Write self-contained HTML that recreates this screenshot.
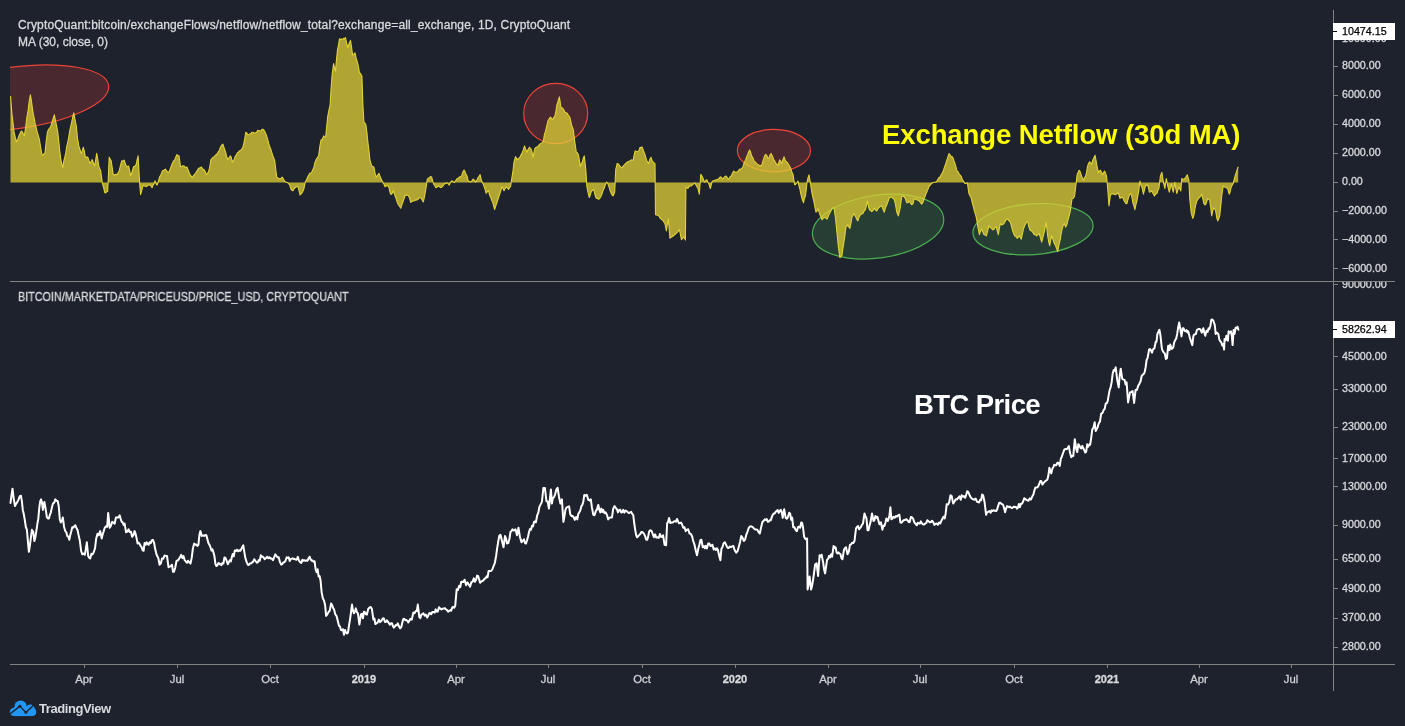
<!DOCTYPE html>
<html><head><meta charset="utf-8"><title>chart</title>
<style>
html,body{margin:0;padding:0;}
body{width:1405px;height:726px;background:#1e222d;overflow:hidden;position:relative;font-family:"Liberation Sans",sans-serif;color:#d9dadd;}
svg{position:absolute;left:0;top:0;}
.hl{position:absolute;background:#828282;height:1px;}
.vl{position:absolute;background:#828282;width:1px;}
.tk{position:absolute;left:1334px;width:4px;height:1px;background:#828282;}
.yl{position:absolute;left:1342px;font-size:10.7px;line-height:14px;height:14px;white-space:nowrap;color:#d9dadd;}
.xl{position:absolute;top:672px;width:60px;margin-left:-30px;text-align:center;font-size:11.3px;line-height:14px;color:#cfd0d4;}
.yr{font-weight:bold;font-size:11px;color:#d9dadd;}
.xt{position:absolute;top:665px;width:1px;height:3px;background:#828282;}
.lg,.yl,.xl,.big,.box{will-change:transform;}
.lg,.yl,.xl{-webkit-text-stroke:0.3px currentColor;}
.box{-webkit-text-stroke:0.25px #000;}
.lg{position:absolute;left:18px;font-size:12px;line-height:14px;white-space:nowrap;color:#d9dadd;transform-origin:0 50%;}
.box{position:absolute;left:1333px;width:62px;height:17px;background:#fff;color:#000;font-size:10.7px;line-height:17px;}
.box span{position:absolute;left:9px;top:0;}
.box i{position:absolute;left:0;top:8px;width:4px;height:1px;background:#000;}
.clip{position:absolute;left:1334px;top:282px;width:71px;height:12px;overflow:hidden;}
.big{position:absolute;font-weight:bold;white-space:nowrap;transform-origin:0 50%;}
</style></head><body>
<svg width="1405" height="726" viewBox="0 0 1405 726">
 <defs><clipPath id="cp"><rect x="10" y="10" width="1323" height="271"/></clipPath></defs>
 <g clip-path="url(#cp)">
  <ellipse cx="14.3" cy="98" rx="95.1" ry="30.9" transform="rotate(-7.56 14.3 98)" fill="rgba(244,67,54,0.2)" stroke="#ee4438" stroke-width="1.2"/>
  <ellipse cx="555.7" cy="113.5" rx="32" ry="30.2" fill="rgba(244,67,54,0.2)" stroke="#ee4438" stroke-width="1.2"/>
  <ellipse cx="773.9" cy="150.6" rx="36.6" ry="21.2" fill="rgba(244,67,54,0.2)" stroke="#ee4438" stroke-width="1.2"/>
  <ellipse cx="878.1" cy="226.6" rx="66.1" ry="31.4" transform="rotate(-8 878.1 226.6)" fill="rgba(76,175,80,0.2)" stroke="#4caf50" stroke-width="1.2"/>
  <ellipse cx="1033" cy="229.2" rx="60.2" ry="25.4" transform="rotate(-4 1033 229.2)" fill="rgba(76,175,80,0.2)" stroke="#4caf50" stroke-width="1.2"/>
  <path d="M10.5,182.5 L10.5,96.1 L12.0,114.8 L13.0,122.6 L14.0,132.2 L15.2,137.2 L16.4,141.7 L17.7,139.4 L18.9,135.9 L20.2,133.1 L21.4,131.0 L22.4,131.9 L23.4,134.3 L24.4,135.9 L25.7,126.9 L26.9,117.2 L28.1,110.6 L29.2,101.4 L30.4,94.8 L31.4,100.5 L32.4,108.6 L33.4,114.8 L34.4,119.7 L35.4,125.0 L36.4,128.5 L37.4,132.9 L38.4,135.9 L39.4,139.7 L40.6,147.0 L41.9,154.6 L42.9,155.3 L43.9,153.7 L44.9,153.4 L46.1,142.2 L47.4,132.2 L48.5,129.5 L49.7,128.1 L50.9,126.0 L52.0,122.3 L53.2,118.3 L54.3,114.8 L55.5,120.5 L56.7,126.6 L57.8,132.2 L58.8,141.8 L59.8,151.3 L60.8,159.6 L61.8,163.8 L62.8,167.6 L63.8,161.1 L64.8,157.1 L65.8,152.7 L66.8,146.1 L67.8,142.2 L68.8,136.7 L69.8,130.3 L70.8,126.0 L71.8,121.6 L72.8,116.6 L73.8,112.8 L75.0,119.5 L76.3,126.0 L77.5,138.3 L78.8,145.9 L80.0,149.6 L81.3,153.4 L82.3,150.9 L83.3,147.2 L84.3,151.2 L85.3,157.1 L86.5,157.0 L87.8,157.1 L89.0,160.7 L90.2,163.4 L91.2,161.4 L92.2,159.6 L93.5,163.0 L94.7,165.9 L95.7,159.7 L96.7,153.4 L97.7,158.9 L98.7,165.9 L99.7,168.7 L100.7,170.8 L102.2,182.6 L103.5,187.0 L104.7,192.5 L105.7,192.9 L106.7,191.7 L107.7,191.5 L109.2,157.1 L110.2,159.4 L111.2,160.9 L112.2,167.7 L113.2,174.6 L114.3,174.9 L115.5,174.4 L116.7,174.6 L117.9,173.3 L119.2,170.8 L120.4,165.8 L121.7,160.9 L122.9,161.0 L124.2,160.1 L125.4,163.8 L126.6,166.6 L127.6,166.3 L128.6,165.9 L129.6,170.3 L130.6,175.8 L131.6,173.3 L132.6,170.0 L133.6,166.6 L134.9,166.4 L136.1,164.6 L137.1,160.0 L138.1,155.9 L139.6,182.6 L140.6,194.5 L141.8,190.2 L143.1,185.1 L144.1,185.8 L145.1,186.2 L146.1,186.6 L147.1,186.0 L148.1,185.3 L149.1,184.6 L150.1,185.3 L151.1,186.1 L152.1,187.6 L153.1,185.1 L154.1,183.4 L155.1,180.8 L156.1,183.9 L157.1,185.1 L158.3,181.8 L159.5,177.1 L160.5,175.6 L161.5,173.4 L162.5,170.8 L163.5,170.6 L164.5,169.8 L165.5,169.1 L166.8,171.2 L168.0,172.6 L169.3,171.5 L170.5,168.3 L171.5,165.6 L172.5,162.9 L173.5,160.9 L174.7,159.9 L175.8,156.9 L177.0,154.6 L178.0,155.7 L179.0,155.9 L180.5,166.6 L181.6,166.7 L182.8,165.7 L184.0,165.9 L185.0,167.3 L186.0,167.4 L187.0,167.1 L188.0,169.7 L189.0,172.6 L190.0,174.6 L191.2,176.1 L192.4,177.6 L193.4,175.7 L194.4,174.7 L195.4,173.3 L196.4,171.9 L197.4,170.6 L198.4,168.3 L199.4,168.2 L200.4,167.5 L201.4,167.1 L202.7,169.0 L203.9,169.6 L205.2,171.6 L206.4,174.6 L207.7,173.1 L208.9,170.8 L209.9,166.0 L210.9,159.6 L211.9,158.7 L212.9,157.2 L213.9,157.1 L215.1,155.5 L216.2,154.8 L217.4,153.4 L218.4,151.6 L219.4,150.2 L220.4,147.2 L221.6,145.2 L222.9,144.2 L224.1,147.9 L225.4,151.7 L226.6,156.1 L227.8,159.6 L229.1,157.7 L230.3,155.9 L231.3,157.3 L232.3,162.1 L233.3,160.5 L234.3,159.4 L235.3,155.9 L236.3,155.1 L237.3,152.9 L238.3,152.2 L239.3,151.1 L240.3,150.6 L241.3,149.7 L242.6,148.2 L243.8,143.4 L244.8,138.3 L245.8,132.2 L246.8,133.1 L247.8,134.6 L248.8,134.7 L249.8,133.8 L250.8,133.9 L251.8,132.2 L252.8,132.3 L253.8,132.8 L254.8,133.4 L255.8,132.7 L256.8,132.0 L257.8,130.2 L258.8,130.7 L259.8,130.8 L260.8,131.0 L262.0,129.3 L263.2,129.2 L264.2,130.6 L265.2,132.5 L266.2,134.7 L267.5,138.7 L268.7,143.4 L269.7,146.8 L270.7,149.0 L271.7,152.2 L272.7,155.6 L273.7,158.0 L274.7,160.9 L275.7,168.7 L276.7,177.1 L277.7,177.8 L278.7,178.6 L279.7,179.1 L280.9,178.5 L282.2,177.1 L283.4,179.1 L284.7,181.6 L285.9,182.0 L287.2,182.6 L288.4,183.2 L289.7,185.1 L290.9,188.9 L292.2,190.8 L293.2,190.4 L294.2,188.5 L295.2,187.6 L296.2,187.0 L297.2,186.4 L298.1,186.6 L299.1,190.9 L300.1,195.0 L301.4,193.6 L302.6,192.0 L303.9,188.9 L305.1,182.6 L306.4,180.0 L307.6,177.1 L308.6,175.4 L309.6,173.4 L310.6,173.3 L311.6,172.5 L312.6,170.1 L313.6,168.3 L314.9,162.8 L316.1,159.6 L317.3,157.9 L318.6,155.9 L319.8,146.6 L321.1,139.7 L322.3,139.7 L323.6,135.9 L324.6,137.0 L325.6,137.2 L326.6,127.6 L327.6,117.2 L328.8,110.9 L330.1,104.8 L331.1,88.3 L332.1,74.9 L333.6,63.6 L334.5,67.3 L335.5,71.1 L336.5,59.4 L337.5,49.9 L338.5,44.8 L339.5,38.7 L340.0,40.0 L341.2,38.9 L342.5,39.5 L343.5,38.4 L344.5,38.7 L345.5,37.5 L346.7,43.6 L348.0,47.5 L349.2,43.1 L350.5,40.5 L351.5,46.6 L352.5,54.9 L353.7,54.3 L355.0,52.9 L356.2,58.3 L357.4,62.4 L358.4,66.7 L359.4,72.4 L360.7,73.9 L361.9,76.1 L362.9,104.8 L363.9,122.2 L364.9,123.1 L365.9,124.7 L366.9,132.6 L367.9,142.2 L368.9,150.4 L369.9,159.6 L370.9,163.6 L371.9,165.9 L372.9,166.8 L373.9,167.1 L375.1,173.6 L376.4,177.1 L377.6,175.2 L378.9,173.3 L380.1,176.4 L381.4,179.6 L382.9,182.6 L383.9,184.0 L384.9,186.6 L385.9,186.3 L386.9,185.6 L387.9,185.8 L388.9,187.5 L389.9,192.1 L390.9,194.5 L392.1,193.4 L393.4,190.8 L394.6,194.7 L395.8,197.5 L397.1,201.9 L398.3,204.5 L399.6,206.5 L400.8,208.2 L402.1,204.0 L403.3,200.8 L404.3,198.0 L405.3,195.0 L406.3,195.1 L407.3,195.1 L408.3,195.8 L409.6,198.0 L410.8,202.5 L411.8,201.3 L412.8,201.3 L413.8,200.8 L414.8,200.6 L415.8,200.1 L416.8,200.0 L418.0,199.4 L419.3,197.5 L420.3,198.0 L421.3,198.3 L422.3,200.5 L423.3,202.0 L424.5,196.6 L425.8,189.5 L427.2,179.6 L428.2,178.2 L429.2,177.6 L430.5,176.6 L431.7,177.1 L432.7,181.1 L433.7,184.1 L434.7,185.4 L435.7,187.6 L437.0,187.2 L438.2,185.8 L439.5,186.8 L440.7,187.6 L441.7,187.2 L442.7,186.2 L443.7,185.1 L444.7,183.3 L445.7,183.7 L446.7,182.6 L447.9,183.5 L449.2,185.1 L450.4,182.5 L451.7,180.8 L452.9,181.5 L454.2,182.6 L455.4,181.2 L456.7,179.1 L457.9,178.5 L459.2,177.1 L460.4,176.9 L461.6,175.8 L462.9,171.9 L464.1,170.1 L465.1,172.0 L466.1,174.6 L467.1,176.0 L468.1,180.8 L469.4,181.4 L470.6,182.1 L471.9,180.9 L473.1,179.1 L474.4,180.2 L475.6,182.1 L476.9,180.0 L478.1,177.6 L479.1,176.2 L480.1,174.6 L481.1,179.1 L482.1,182.1 L483.1,183.8 L484.1,186.6 L485.1,189.3 L486.1,193.3 L487.3,191.7 L488.6,190.8 L489.6,195.2 L490.6,197.0 L491.6,200.2 L492.6,202.0 L493.6,205.7 L494.6,209.5 L495.8,205.9 L497.1,202.0 L498.3,198.4 L499.5,194.5 L500.8,190.7 L502.0,186.6 L503.0,188.5 L504.0,190.8 L505.0,188.7 L506.0,187.1 L507.3,187.7 L508.5,189.5 L509.5,187.7 L510.5,186.6 L512.0,177.1 L513.0,170.8 L514.0,162.1 L515.5,156.6 L516.5,158.4 L517.5,159.6 L518.7,158.4 L520.0,157.1 L521.2,154.5 L522.5,152.2 L523.5,149.1 L524.5,145.9 L525.7,149.3 L527.0,152.2 L528.2,149.3 L529.5,147.2 L530.5,148.5 L531.5,149.7 L533.0,157.1 L533.9,152.9 L534.9,148.4 L535.9,147.5 L536.9,146.9 L537.9,146.7 L538.9,145.1 L539.9,144.0 L540.9,143.4 L542.2,142.6 L543.4,140.9 L544.4,134.6 L545.4,131.7 L546.7,126.2 L547.9,121.0 L549.2,118.8 L550.4,117.2 L551.4,118.2 L552.4,119.7 L553.6,117.9 L554.9,116.0 L555.9,111.2 L556.9,104.8 L558.1,100.9 L559.4,96.8 L560.9,107.3 L561.9,107.8 L562.9,108.5 L563.9,110.0 L564.9,112.3 L566.1,112.8 L567.4,113.5 L568.6,115.9 L569.8,117.2 L570.8,121.3 L571.8,126.0 L573.3,129.7 L574.8,142.2 L576.3,152.2 L577.3,152.8 L578.3,154.6 L579.3,159.7 L580.3,166.6 L581.3,163.7 L582.3,162.1 L583.3,158.0 L584.3,155.9 L585.8,169.6 L586.8,185.8 L588.0,192.4 L589.3,197.5 L590.3,194.8 L591.3,191.5 L592.5,190.4 L593.8,189.5 L595.0,195.0 L596.3,198.3 L597.3,198.3 L598.3,199.1 L599.3,199.0 L600.5,197.2 L601.8,194.5 L603.0,190.4 L604.2,188.3 L605.5,184.2 L606.7,182.1 L607.7,183.4 L608.7,185.8 L610.0,190.2 L611.2,193.3 L612.2,195.2 L613.2,195.8 L614.7,192.0 L615.7,169.6 L617.2,163.4 L618.5,164.0 L619.7,165.9 L620.9,167.2 L622.2,167.6 L623.4,165.9 L624.7,164.6 L625.9,163.2 L627.2,162.1 L628.2,161.5 L629.2,161.2 L630.2,160.9 L631.2,159.9 L632.2,160.0 L633.2,160.1 L634.2,154.6 L635.2,150.9 L636.4,151.5 L637.6,151.7 L638.9,150.6 L640.1,147.2 L641.1,148.0 L642.0,146.9 L643.0,149.4 L644.0,152.3 L645.2,155.1 L646.5,160.3 L647.5,161.7 L648.5,163.6 L649.7,159.8 L651.0,157.3 L652.2,161.0 L653.5,162.3 L655.0,163.6 L655.5,214.7 L656.7,215.1 L658.0,215.2 L659.2,216.4 L660.4,218.4 L661.7,219.7 L662.9,220.2 L663.9,222.1 L664.9,223.4 L666.4,230.9 L667.4,223.9 L668.4,219.2 L669.9,238.3 L671.2,237.2 L672.4,236.6 L673.7,235.5 L674.9,234.6 L676.1,233.4 L677.4,232.1 L678.4,230.9 L679.4,229.6 L680.4,234.4 L681.4,239.6 L682.6,238.4 L683.9,237.1 L685.4,240.1 L685.9,187.2 L686.9,187.6 L687.9,188.5 L688.9,186.8 L689.9,186.0 L691.1,186.0 L692.4,184.8 L693.6,183.9 L694.8,182.8 L696.1,185.3 L697.3,187.2 L698.3,189.6 L699.3,194.2 L700.8,174.3 L701.8,175.9 L702.8,177.8 L703.8,180.5 L704.8,182.3 L705.8,180.4 L706.8,179.8 L707.8,182.3 L708.8,183.5 L710.3,188.5 L711.3,184.5 L712.3,181.0 L713.5,180.8 L714.8,180.3 L715.8,179.9 L716.8,179.7 L717.8,179.3 L719.0,178.6 L720.3,176.8 L721.3,177.2 L722.3,178.6 L723.3,178.5 L724.5,176.9 L725.8,176.0 L727.0,177.2 L728.2,179.3 L729.2,178.5 L730.2,176.6 L731.2,176.0 L732.5,173.3 L733.7,171.1 L735.0,172.0 L736.2,172.3 L737.5,171.8 L738.7,170.3 L739.7,169.0 L740.7,169.3 L741.7,168.6 L743.0,166.7 L744.2,162.3 L745.5,160.3 L746.7,156.8 L747.7,154.4 L748.7,151.8 L749.7,149.9 L750.7,152.8 L751.7,156.1 L752.9,157.9 L754.2,161.1 L755.4,162.2 L756.7,163.6 L757.9,164.4 L759.2,165.3 L760.2,165.6 L761.1,166.1 L762.4,163.2 L763.6,158.6 L764.6,156.3 L765.6,154.3 L766.9,155.6 L768.1,158.6 L769.1,157.5 L770.1,154.7 L771.1,153.6 L772.4,156.2 L773.6,159.3 L774.9,161.4 L776.1,163.6 L777.1,164.3 L778.1,165.3 L779.6,159.8 L780.6,161.1 L781.6,163.6 L782.8,160.0 L784.1,156.8 L785.3,160.6 L786.6,161.8 L787.8,163.2 L789.1,165.3 L790.1,167.2 L791.1,169.3 L792.1,172.8 L793.1,174.8 L794.6,184.8 L795.6,184.5 L796.5,183.5 L798.0,181.0 L799.0,185.9 L800.0,189.7 L801.0,194.7 L802.0,198.5 L803.5,202.7 L804.5,197.9 L805.5,196.0 L807.0,182.3 L808.0,177.9 L809.0,174.8 L810.5,183.5 L812.0,193.5 L813.0,197.9 L814.0,202.2 L815.0,207.6 L816.0,212.2 L817.0,211.1 L818.0,208.4 L819.0,211.9 L820.0,214.7 L821.0,217.0 L822.0,219.7 L823.2,218.4 L824.5,217.2 L825.7,218.1 L827.0,219.2 L828.2,216.5 L829.5,213.4 L830.7,211.3 L832.0,208.4 L833.0,207.9 L834.0,207.7 L835.4,217.2 L836.9,232.1 L838.4,247.1 L839.9,257.6 L840.9,256.3 L841.9,255.8 L842.9,248.3 L843.9,242.1 L844.9,235.4 L845.9,227.1 L846.9,226.5 L847.9,224.6 L848.9,227.1 L849.9,228.4 L850.9,223.4 L851.9,217.2 L852.9,215.8 L853.9,213.4 L854.9,215.3 L855.9,217.2 L856.9,219.4 L857.9,220.9 L859.1,217.1 L860.4,214.7 L861.6,214.0 L862.9,213.4 L864.1,211.2 L865.4,209.7 L866.4,205.8 L867.4,201.0 L868.3,204.9 L869.3,209.7 L870.6,210.6 L871.8,211.7 L873.1,210.3 L874.3,208.4 L875.6,210.3 L876.8,210.9 L878.1,208.6 L879.3,207.2 L880.6,206.2 L881.8,205.9 L883.1,209.6 L884.3,212.2 L885.5,207.6 L886.8,204.7 L888.0,201.5 L889.3,197.7 L890.5,197.3 L891.8,197.2 L893.0,198.4 L894.3,199.7 L895.5,204.6 L896.8,212.2 L898.3,215.9 L899.3,212.1 L900.3,207.2 L901.8,196.0 L903.0,196.2 L904.2,196.7 L905.5,199.1 L906.7,202.7 L908.0,202.7 L909.2,201.0 L910.5,203.2 L911.7,204.7 L913.0,203.9 L914.2,198.5 L915.5,199.3 L916.7,199.7 L918.0,200.2 L919.2,201.0 L920.5,202.6 L921.7,204.2 L922.9,202.4 L924.2,198.5 L925.4,195.3 L926.7,192.2 L927.9,189.4 L929.2,186.0 L930.4,185.0 L931.7,183.5 L932.9,182.5 L934.2,182.3 L935.4,182.1 L936.6,181.8 L937.9,179.2 L939.1,177.3 L940.0,177.8 L941.0,174.9 L942.0,173.5 L943.0,171.6 L944.0,168.6 L945.2,165.3 L946.5,161.1 L947.7,157.4 L949.0,153.6 L950.0,154.7 L951.0,156.8 L952.0,156.5 L953.0,157.8 L954.0,161.0 L955.0,163.6 L956.0,167.2 L957.0,171.1 L957.9,171.4 L958.9,173.5 L959.9,174.8 L961.2,176.4 L962.4,179.8 L963.7,181.6 L964.9,183.5 L966.2,183.2 L967.4,182.8 L968.9,193.5 L969.9,195.6 L970.9,197.2 L972.2,202.4 L973.4,207.2 L974.6,211.7 L975.9,215.9 L976.9,220.7 L977.9,227.1 L979.4,234.6 L980.4,231.6 L981.4,229.1 L982.6,231.6 L983.9,234.6 L985.1,235.1 L986.4,235.9 L987.6,231.1 L988.9,225.9 L990.1,227.4 L991.4,228.4 L992.6,229.7 L993.9,229.6 L995.1,227.2 L996.3,227.1 L997.3,231.2 L998.3,234.6 L999.3,228.9 L1000.3,223.4 L1001.6,225.0 L1002.8,224.6 L1004.1,223.3 L1005.3,220.9 L1006.6,219.3 L1007.8,219.2 L1009.1,220.9 L1010.3,222.2 L1011.3,225.5 L1012.3,229.6 L1013.5,233.4 L1014.8,235.9 L1016.0,236.6 L1017.3,238.3 L1018.3,237.1 L1019.3,235.9 L1020.3,237.4 L1021.3,239.1 L1022.3,234.3 L1023.3,229.6 L1024.5,226.1 L1025.8,223.4 L1026.8,221.7 L1027.8,221.7 L1028.7,226.0 L1029.7,229.6 L1030.7,230.7 L1031.7,230.9 L1033.0,232.7 L1034.2,234.6 L1035.5,234.8 L1036.7,235.9 L1038.0,234.7 L1039.2,233.4 L1040.5,238.1 L1041.7,242.1 L1043.0,237.0 L1044.2,232.1 L1045.2,227.1 L1046.2,222.2 L1047.7,235.9 L1048.7,241.9 L1049.7,245.8 L1050.7,240.0 L1051.7,235.9 L1052.9,239.2 L1054.2,243.3 L1055.3,244.9 L1056.5,248.4 L1057.7,251.6 L1058.9,245.1 L1060.2,239.6 L1061.2,233.3 L1062.2,228.4 L1063.2,225.4 L1064.2,223.4 L1065.6,227.1 L1066.9,224.7 L1068.1,219.7 L1069.1,215.8 L1070.1,212.2 L1071.1,205.2 L1072.1,198.5 L1073.4,198.3 L1074.6,196.0 L1076.1,183.5 L1077.1,174.8 L1078.1,172.5 L1079.1,170.3 L1080.1,171.5 L1081.1,174.8 L1082.3,177.8 L1083.6,180.3 L1084.6,177.6 L1085.6,176.0 L1086.6,172.2 L1087.6,166.1 L1088.6,163.2 L1089.6,161.8 L1090.6,162.8 L1091.6,164.3 L1092.6,160.3 L1093.6,158.6 L1095.1,155.3 L1096.1,160.8 L1097.0,166.1 L1098.5,172.8 L1099.5,171.0 L1100.5,170.3 L1101.5,172.5 L1102.5,174.8 L1103.5,172.7 L1104.5,171.1 L1105.5,173.1 L1106.5,176.0 L1107.5,186.0 L1109.0,205.9 L1110.5,194.2 L1111.8,194.2 L1113.0,193.5 L1114.3,194.5 L1115.5,194.7 L1116.7,193.8 L1118.0,192.7 L1119.0,195.0 L1120.0,198.5 L1121.2,197.4 L1122.5,197.2 L1123.7,199.9 L1125.0,202.2 L1126.0,203.8 L1127.0,203.4 L1128.0,199.4 L1129.0,196.0 L1130.0,194.3 L1131.0,193.5 L1132.0,198.0 L1133.0,203.4 L1133.9,205.8 L1134.9,209.7 L1135.9,204.6 L1136.9,201.0 L1137.9,195.2 L1138.9,189.7 L1139.9,181.0 L1140.9,185.2 L1141.9,187.2 L1143.4,194.2 L1144.4,190.1 L1145.4,186.0 L1146.4,185.2 L1147.4,184.8 L1148.4,187.3 L1149.4,192.2 L1150.6,191.7 L1151.9,191.0 L1153.1,193.5 L1154.4,196.0 L1155.6,194.1 L1156.9,193.5 L1157.9,190.3 L1158.9,188.5 L1160.4,176.0 L1161.9,172.3 L1163.4,182.3 L1164.9,188.5 L1166.3,178.5 L1167.8,186.0 L1169.3,192.2 L1170.3,187.8 L1171.3,183.5 L1172.3,188.6 L1173.3,192.2 L1174.8,182.3 L1175.8,188.3 L1176.8,193.5 L1177.8,190.3 L1178.8,186.8 L1179.8,188.7 L1180.8,191.0 L1181.8,178.5 L1182.8,179.0 L1183.8,179.3 L1184.8,178.3 L1185.8,177.3 L1187.3,174.8 L1188.8,179.8 L1189.8,199.7 L1191.3,213.4 L1192.8,218.4 L1193.8,215.6 L1194.8,209.7 L1195.8,204.5 L1196.8,201.0 L1198.0,199.2 L1199.3,197.7 L1200.5,196.6 L1201.8,194.2 L1202.8,198.6 L1203.8,203.4 L1204.7,204.7 L1205.7,204.7 L1206.7,201.6 L1207.7,198.5 L1208.7,199.2 L1209.7,199.7 L1210.7,207.6 L1211.7,215.9 L1212.7,210.8 L1213.7,207.7 L1214.7,208.8 L1215.7,210.9 L1216.7,217.5 L1217.7,220.9 L1218.7,218.8 L1219.7,215.9 L1220.7,206.4 L1221.7,196.0 L1223.2,186.0 L1224.4,187.0 L1225.7,187.2 L1226.7,188.1 L1227.7,188.5 L1229.2,194.2 L1230.2,191.5 L1231.2,187.2 L1232.2,185.2 L1233.2,183.5 L1234.7,177.3 L1235.7,174.0 L1236.7,171.1 L1238.2,166.8 L1238.2,182.5 Z" fill="rgba(225,209,54,0.75)" stroke="none"/>
  <path d="M10.5,96.1 L12.0,114.8 L13.0,122.6 L14.0,132.2 L15.2,137.2 L16.4,141.7 L17.7,139.4 L18.9,135.9 L20.2,133.1 L21.4,131.0 L22.4,131.9 L23.4,134.3 L24.4,135.9 L25.7,126.9 L26.9,117.2 L28.1,110.6 L29.2,101.4 L30.4,94.8 L31.4,100.5 L32.4,108.6 L33.4,114.8 L34.4,119.7 L35.4,125.0 L36.4,128.5 L37.4,132.9 L38.4,135.9 L39.4,139.7 L40.6,147.0 L41.9,154.6 L42.9,155.3 L43.9,153.7 L44.9,153.4 L46.1,142.2 L47.4,132.2 L48.5,129.5 L49.7,128.1 L50.9,126.0 L52.0,122.3 L53.2,118.3 L54.3,114.8 L55.5,120.5 L56.7,126.6 L57.8,132.2 L58.8,141.8 L59.8,151.3 L60.8,159.6 L61.8,163.8 L62.8,167.6 L63.8,161.1 L64.8,157.1 L65.8,152.7 L66.8,146.1 L67.8,142.2 L68.8,136.7 L69.8,130.3 L70.8,126.0 L71.8,121.6 L72.8,116.6 L73.8,112.8 L75.0,119.5 L76.3,126.0 L77.5,138.3 L78.8,145.9 L80.0,149.6 L81.3,153.4 L82.3,150.9 L83.3,147.2 L84.3,151.2 L85.3,157.1 L86.5,157.0 L87.8,157.1 L89.0,160.7 L90.2,163.4 L91.2,161.4 L92.2,159.6 L93.5,163.0 L94.7,165.9 L95.7,159.7 L96.7,153.4 L97.7,158.9 L98.7,165.9 L99.7,168.7 L100.7,170.8 L102.2,182.6 L103.5,187.0 L104.7,192.5 L105.7,192.9 L106.7,191.7 L107.7,191.5 L109.2,157.1 L110.2,159.4 L111.2,160.9 L112.2,167.7 L113.2,174.6 L114.3,174.9 L115.5,174.4 L116.7,174.6 L117.9,173.3 L119.2,170.8 L120.4,165.8 L121.7,160.9 L122.9,161.0 L124.2,160.1 L125.4,163.8 L126.6,166.6 L127.6,166.3 L128.6,165.9 L129.6,170.3 L130.6,175.8 L131.6,173.3 L132.6,170.0 L133.6,166.6 L134.9,166.4 L136.1,164.6 L137.1,160.0 L138.1,155.9 L139.6,182.6 L140.6,194.5 L141.8,190.2 L143.1,185.1 L144.1,185.8 L145.1,186.2 L146.1,186.6 L147.1,186.0 L148.1,185.3 L149.1,184.6 L150.1,185.3 L151.1,186.1 L152.1,187.6 L153.1,185.1 L154.1,183.4 L155.1,180.8 L156.1,183.9 L157.1,185.1 L158.3,181.8 L159.5,177.1 L160.5,175.6 L161.5,173.4 L162.5,170.8 L163.5,170.6 L164.5,169.8 L165.5,169.1 L166.8,171.2 L168.0,172.6 L169.3,171.5 L170.5,168.3 L171.5,165.6 L172.5,162.9 L173.5,160.9 L174.7,159.9 L175.8,156.9 L177.0,154.6 L178.0,155.7 L179.0,155.9 L180.5,166.6 L181.6,166.7 L182.8,165.7 L184.0,165.9 L185.0,167.3 L186.0,167.4 L187.0,167.1 L188.0,169.7 L189.0,172.6 L190.0,174.6 L191.2,176.1 L192.4,177.6 L193.4,175.7 L194.4,174.7 L195.4,173.3 L196.4,171.9 L197.4,170.6 L198.4,168.3 L199.4,168.2 L200.4,167.5 L201.4,167.1 L202.7,169.0 L203.9,169.6 L205.2,171.6 L206.4,174.6 L207.7,173.1 L208.9,170.8 L209.9,166.0 L210.9,159.6 L211.9,158.7 L212.9,157.2 L213.9,157.1 L215.1,155.5 L216.2,154.8 L217.4,153.4 L218.4,151.6 L219.4,150.2 L220.4,147.2 L221.6,145.2 L222.9,144.2 L224.1,147.9 L225.4,151.7 L226.6,156.1 L227.8,159.6 L229.1,157.7 L230.3,155.9 L231.3,157.3 L232.3,162.1 L233.3,160.5 L234.3,159.4 L235.3,155.9 L236.3,155.1 L237.3,152.9 L238.3,152.2 L239.3,151.1 L240.3,150.6 L241.3,149.7 L242.6,148.2 L243.8,143.4 L244.8,138.3 L245.8,132.2 L246.8,133.1 L247.8,134.6 L248.8,134.7 L249.8,133.8 L250.8,133.9 L251.8,132.2 L252.8,132.3 L253.8,132.8 L254.8,133.4 L255.8,132.7 L256.8,132.0 L257.8,130.2 L258.8,130.7 L259.8,130.8 L260.8,131.0 L262.0,129.3 L263.2,129.2 L264.2,130.6 L265.2,132.5 L266.2,134.7 L267.5,138.7 L268.7,143.4 L269.7,146.8 L270.7,149.0 L271.7,152.2 L272.7,155.6 L273.7,158.0 L274.7,160.9 L275.7,168.7 L276.7,177.1 L277.7,177.8 L278.7,178.6 L279.7,179.1 L280.9,178.5 L282.2,177.1 L283.4,179.1 L284.7,181.6 L285.9,182.0 L287.2,182.6 L288.4,183.2 L289.7,185.1 L290.9,188.9 L292.2,190.8 L293.2,190.4 L294.2,188.5 L295.2,187.6 L296.2,187.0 L297.2,186.4 L298.1,186.6 L299.1,190.9 L300.1,195.0 L301.4,193.6 L302.6,192.0 L303.9,188.9 L305.1,182.6 L306.4,180.0 L307.6,177.1 L308.6,175.4 L309.6,173.4 L310.6,173.3 L311.6,172.5 L312.6,170.1 L313.6,168.3 L314.9,162.8 L316.1,159.6 L317.3,157.9 L318.6,155.9 L319.8,146.6 L321.1,139.7 L322.3,139.7 L323.6,135.9 L324.6,137.0 L325.6,137.2 L326.6,127.6 L327.6,117.2 L328.8,110.9 L330.1,104.8 L331.1,88.3 L332.1,74.9 L333.6,63.6 L334.5,67.3 L335.5,71.1 L336.5,59.4 L337.5,49.9 L338.5,44.8 L339.5,38.7 L340.0,40.0 L341.2,38.9 L342.5,39.5 L343.5,38.4 L344.5,38.7 L345.5,37.5 L346.7,43.6 L348.0,47.5 L349.2,43.1 L350.5,40.5 L351.5,46.6 L352.5,54.9 L353.7,54.3 L355.0,52.9 L356.2,58.3 L357.4,62.4 L358.4,66.7 L359.4,72.4 L360.7,73.9 L361.9,76.1 L362.9,104.8 L363.9,122.2 L364.9,123.1 L365.9,124.7 L366.9,132.6 L367.9,142.2 L368.9,150.4 L369.9,159.6 L370.9,163.6 L371.9,165.9 L372.9,166.8 L373.9,167.1 L375.1,173.6 L376.4,177.1 L377.6,175.2 L378.9,173.3 L380.1,176.4 L381.4,179.6 L382.9,182.6 L383.9,184.0 L384.9,186.6 L385.9,186.3 L386.9,185.6 L387.9,185.8 L388.9,187.5 L389.9,192.1 L390.9,194.5 L392.1,193.4 L393.4,190.8 L394.6,194.7 L395.8,197.5 L397.1,201.9 L398.3,204.5 L399.6,206.5 L400.8,208.2 L402.1,204.0 L403.3,200.8 L404.3,198.0 L405.3,195.0 L406.3,195.1 L407.3,195.1 L408.3,195.8 L409.6,198.0 L410.8,202.5 L411.8,201.3 L412.8,201.3 L413.8,200.8 L414.8,200.6 L415.8,200.1 L416.8,200.0 L418.0,199.4 L419.3,197.5 L420.3,198.0 L421.3,198.3 L422.3,200.5 L423.3,202.0 L424.5,196.6 L425.8,189.5 L427.2,179.6 L428.2,178.2 L429.2,177.6 L430.5,176.6 L431.7,177.1 L432.7,181.1 L433.7,184.1 L434.7,185.4 L435.7,187.6 L437.0,187.2 L438.2,185.8 L439.5,186.8 L440.7,187.6 L441.7,187.2 L442.7,186.2 L443.7,185.1 L444.7,183.3 L445.7,183.7 L446.7,182.6 L447.9,183.5 L449.2,185.1 L450.4,182.5 L451.7,180.8 L452.9,181.5 L454.2,182.6 L455.4,181.2 L456.7,179.1 L457.9,178.5 L459.2,177.1 L460.4,176.9 L461.6,175.8 L462.9,171.9 L464.1,170.1 L465.1,172.0 L466.1,174.6 L467.1,176.0 L468.1,180.8 L469.4,181.4 L470.6,182.1 L471.9,180.9 L473.1,179.1 L474.4,180.2 L475.6,182.1 L476.9,180.0 L478.1,177.6 L479.1,176.2 L480.1,174.6 L481.1,179.1 L482.1,182.1 L483.1,183.8 L484.1,186.6 L485.1,189.3 L486.1,193.3 L487.3,191.7 L488.6,190.8 L489.6,195.2 L490.6,197.0 L491.6,200.2 L492.6,202.0 L493.6,205.7 L494.6,209.5 L495.8,205.9 L497.1,202.0 L498.3,198.4 L499.5,194.5 L500.8,190.7 L502.0,186.6 L503.0,188.5 L504.0,190.8 L505.0,188.7 L506.0,187.1 L507.3,187.7 L508.5,189.5 L509.5,187.7 L510.5,186.6 L512.0,177.1 L513.0,170.8 L514.0,162.1 L515.5,156.6 L516.5,158.4 L517.5,159.6 L518.7,158.4 L520.0,157.1 L521.2,154.5 L522.5,152.2 L523.5,149.1 L524.5,145.9 L525.7,149.3 L527.0,152.2 L528.2,149.3 L529.5,147.2 L530.5,148.5 L531.5,149.7 L533.0,157.1 L533.9,152.9 L534.9,148.4 L535.9,147.5 L536.9,146.9 L537.9,146.7 L538.9,145.1 L539.9,144.0 L540.9,143.4 L542.2,142.6 L543.4,140.9 L544.4,134.6 L545.4,131.7 L546.7,126.2 L547.9,121.0 L549.2,118.8 L550.4,117.2 L551.4,118.2 L552.4,119.7 L553.6,117.9 L554.9,116.0 L555.9,111.2 L556.9,104.8 L558.1,100.9 L559.4,96.8 L560.9,107.3 L561.9,107.8 L562.9,108.5 L563.9,110.0 L564.9,112.3 L566.1,112.8 L567.4,113.5 L568.6,115.9 L569.8,117.2 L570.8,121.3 L571.8,126.0 L573.3,129.7 L574.8,142.2 L576.3,152.2 L577.3,152.8 L578.3,154.6 L579.3,159.7 L580.3,166.6 L581.3,163.7 L582.3,162.1 L583.3,158.0 L584.3,155.9 L585.8,169.6 L586.8,185.8 L588.0,192.4 L589.3,197.5 L590.3,194.8 L591.3,191.5 L592.5,190.4 L593.8,189.5 L595.0,195.0 L596.3,198.3 L597.3,198.3 L598.3,199.1 L599.3,199.0 L600.5,197.2 L601.8,194.5 L603.0,190.4 L604.2,188.3 L605.5,184.2 L606.7,182.1 L607.7,183.4 L608.7,185.8 L610.0,190.2 L611.2,193.3 L612.2,195.2 L613.2,195.8 L614.7,192.0 L615.7,169.6 L617.2,163.4 L618.5,164.0 L619.7,165.9 L620.9,167.2 L622.2,167.6 L623.4,165.9 L624.7,164.6 L625.9,163.2 L627.2,162.1 L628.2,161.5 L629.2,161.2 L630.2,160.9 L631.2,159.9 L632.2,160.0 L633.2,160.1 L634.2,154.6 L635.2,150.9 L636.4,151.5 L637.6,151.7 L638.9,150.6 L640.1,147.2 L641.1,148.0 L642.0,146.9 L643.0,149.4 L644.0,152.3 L645.2,155.1 L646.5,160.3 L647.5,161.7 L648.5,163.6 L649.7,159.8 L651.0,157.3 L652.2,161.0 L653.5,162.3 L655.0,163.6 L655.5,214.7 L656.7,215.1 L658.0,215.2 L659.2,216.4 L660.4,218.4 L661.7,219.7 L662.9,220.2 L663.9,222.1 L664.9,223.4 L666.4,230.9 L667.4,223.9 L668.4,219.2 L669.9,238.3 L671.2,237.2 L672.4,236.6 L673.7,235.5 L674.9,234.6 L676.1,233.4 L677.4,232.1 L678.4,230.9 L679.4,229.6 L680.4,234.4 L681.4,239.6 L682.6,238.4 L683.9,237.1 L685.4,240.1 L685.9,187.2 L686.9,187.6 L687.9,188.5 L688.9,186.8 L689.9,186.0 L691.1,186.0 L692.4,184.8 L693.6,183.9 L694.8,182.8 L696.1,185.3 L697.3,187.2 L698.3,189.6 L699.3,194.2 L700.8,174.3 L701.8,175.9 L702.8,177.8 L703.8,180.5 L704.8,182.3 L705.8,180.4 L706.8,179.8 L707.8,182.3 L708.8,183.5 L710.3,188.5 L711.3,184.5 L712.3,181.0 L713.5,180.8 L714.8,180.3 L715.8,179.9 L716.8,179.7 L717.8,179.3 L719.0,178.6 L720.3,176.8 L721.3,177.2 L722.3,178.6 L723.3,178.5 L724.5,176.9 L725.8,176.0 L727.0,177.2 L728.2,179.3 L729.2,178.5 L730.2,176.6 L731.2,176.0 L732.5,173.3 L733.7,171.1 L735.0,172.0 L736.2,172.3 L737.5,171.8 L738.7,170.3 L739.7,169.0 L740.7,169.3 L741.7,168.6 L743.0,166.7 L744.2,162.3 L745.5,160.3 L746.7,156.8 L747.7,154.4 L748.7,151.8 L749.7,149.9 L750.7,152.8 L751.7,156.1 L752.9,157.9 L754.2,161.1 L755.4,162.2 L756.7,163.6 L757.9,164.4 L759.2,165.3 L760.2,165.6 L761.1,166.1 L762.4,163.2 L763.6,158.6 L764.6,156.3 L765.6,154.3 L766.9,155.6 L768.1,158.6 L769.1,157.5 L770.1,154.7 L771.1,153.6 L772.4,156.2 L773.6,159.3 L774.9,161.4 L776.1,163.6 L777.1,164.3 L778.1,165.3 L779.6,159.8 L780.6,161.1 L781.6,163.6 L782.8,160.0 L784.1,156.8 L785.3,160.6 L786.6,161.8 L787.8,163.2 L789.1,165.3 L790.1,167.2 L791.1,169.3 L792.1,172.8 L793.1,174.8 L794.6,184.8 L795.6,184.5 L796.5,183.5 L798.0,181.0 L799.0,185.9 L800.0,189.7 L801.0,194.7 L802.0,198.5 L803.5,202.7 L804.5,197.9 L805.5,196.0 L807.0,182.3 L808.0,177.9 L809.0,174.8 L810.5,183.5 L812.0,193.5 L813.0,197.9 L814.0,202.2 L815.0,207.6 L816.0,212.2 L817.0,211.1 L818.0,208.4 L819.0,211.9 L820.0,214.7 L821.0,217.0 L822.0,219.7 L823.2,218.4 L824.5,217.2 L825.7,218.1 L827.0,219.2 L828.2,216.5 L829.5,213.4 L830.7,211.3 L832.0,208.4 L833.0,207.9 L834.0,207.7 L835.4,217.2 L836.9,232.1 L838.4,247.1 L839.9,257.6 L840.9,256.3 L841.9,255.8 L842.9,248.3 L843.9,242.1 L844.9,235.4 L845.9,227.1 L846.9,226.5 L847.9,224.6 L848.9,227.1 L849.9,228.4 L850.9,223.4 L851.9,217.2 L852.9,215.8 L853.9,213.4 L854.9,215.3 L855.9,217.2 L856.9,219.4 L857.9,220.9 L859.1,217.1 L860.4,214.7 L861.6,214.0 L862.9,213.4 L864.1,211.2 L865.4,209.7 L866.4,205.8 L867.4,201.0 L868.3,204.9 L869.3,209.7 L870.6,210.6 L871.8,211.7 L873.1,210.3 L874.3,208.4 L875.6,210.3 L876.8,210.9 L878.1,208.6 L879.3,207.2 L880.6,206.2 L881.8,205.9 L883.1,209.6 L884.3,212.2 L885.5,207.6 L886.8,204.7 L888.0,201.5 L889.3,197.7 L890.5,197.3 L891.8,197.2 L893.0,198.4 L894.3,199.7 L895.5,204.6 L896.8,212.2 L898.3,215.9 L899.3,212.1 L900.3,207.2 L901.8,196.0 L903.0,196.2 L904.2,196.7 L905.5,199.1 L906.7,202.7 L908.0,202.7 L909.2,201.0 L910.5,203.2 L911.7,204.7 L913.0,203.9 L914.2,198.5 L915.5,199.3 L916.7,199.7 L918.0,200.2 L919.2,201.0 L920.5,202.6 L921.7,204.2 L922.9,202.4 L924.2,198.5 L925.4,195.3 L926.7,192.2 L927.9,189.4 L929.2,186.0 L930.4,185.0 L931.7,183.5 L932.9,182.5 L934.2,182.3 L935.4,182.1 L936.6,181.8 L937.9,179.2 L939.1,177.3 L940.0,177.8 L941.0,174.9 L942.0,173.5 L943.0,171.6 L944.0,168.6 L945.2,165.3 L946.5,161.1 L947.7,157.4 L949.0,153.6 L950.0,154.7 L951.0,156.8 L952.0,156.5 L953.0,157.8 L954.0,161.0 L955.0,163.6 L956.0,167.2 L957.0,171.1 L957.9,171.4 L958.9,173.5 L959.9,174.8 L961.2,176.4 L962.4,179.8 L963.7,181.6 L964.9,183.5 L966.2,183.2 L967.4,182.8 L968.9,193.5 L969.9,195.6 L970.9,197.2 L972.2,202.4 L973.4,207.2 L974.6,211.7 L975.9,215.9 L976.9,220.7 L977.9,227.1 L979.4,234.6 L980.4,231.6 L981.4,229.1 L982.6,231.6 L983.9,234.6 L985.1,235.1 L986.4,235.9 L987.6,231.1 L988.9,225.9 L990.1,227.4 L991.4,228.4 L992.6,229.7 L993.9,229.6 L995.1,227.2 L996.3,227.1 L997.3,231.2 L998.3,234.6 L999.3,228.9 L1000.3,223.4 L1001.6,225.0 L1002.8,224.6 L1004.1,223.3 L1005.3,220.9 L1006.6,219.3 L1007.8,219.2 L1009.1,220.9 L1010.3,222.2 L1011.3,225.5 L1012.3,229.6 L1013.5,233.4 L1014.8,235.9 L1016.0,236.6 L1017.3,238.3 L1018.3,237.1 L1019.3,235.9 L1020.3,237.4 L1021.3,239.1 L1022.3,234.3 L1023.3,229.6 L1024.5,226.1 L1025.8,223.4 L1026.8,221.7 L1027.8,221.7 L1028.7,226.0 L1029.7,229.6 L1030.7,230.7 L1031.7,230.9 L1033.0,232.7 L1034.2,234.6 L1035.5,234.8 L1036.7,235.9 L1038.0,234.7 L1039.2,233.4 L1040.5,238.1 L1041.7,242.1 L1043.0,237.0 L1044.2,232.1 L1045.2,227.1 L1046.2,222.2 L1047.7,235.9 L1048.7,241.9 L1049.7,245.8 L1050.7,240.0 L1051.7,235.9 L1052.9,239.2 L1054.2,243.3 L1055.3,244.9 L1056.5,248.4 L1057.7,251.6 L1058.9,245.1 L1060.2,239.6 L1061.2,233.3 L1062.2,228.4 L1063.2,225.4 L1064.2,223.4 L1065.6,227.1 L1066.9,224.7 L1068.1,219.7 L1069.1,215.8 L1070.1,212.2 L1071.1,205.2 L1072.1,198.5 L1073.4,198.3 L1074.6,196.0 L1076.1,183.5 L1077.1,174.8 L1078.1,172.5 L1079.1,170.3 L1080.1,171.5 L1081.1,174.8 L1082.3,177.8 L1083.6,180.3 L1084.6,177.6 L1085.6,176.0 L1086.6,172.2 L1087.6,166.1 L1088.6,163.2 L1089.6,161.8 L1090.6,162.8 L1091.6,164.3 L1092.6,160.3 L1093.6,158.6 L1095.1,155.3 L1096.1,160.8 L1097.0,166.1 L1098.5,172.8 L1099.5,171.0 L1100.5,170.3 L1101.5,172.5 L1102.5,174.8 L1103.5,172.7 L1104.5,171.1 L1105.5,173.1 L1106.5,176.0 L1107.5,186.0 L1109.0,205.9 L1110.5,194.2 L1111.8,194.2 L1113.0,193.5 L1114.3,194.5 L1115.5,194.7 L1116.7,193.8 L1118.0,192.7 L1119.0,195.0 L1120.0,198.5 L1121.2,197.4 L1122.5,197.2 L1123.7,199.9 L1125.0,202.2 L1126.0,203.8 L1127.0,203.4 L1128.0,199.4 L1129.0,196.0 L1130.0,194.3 L1131.0,193.5 L1132.0,198.0 L1133.0,203.4 L1133.9,205.8 L1134.9,209.7 L1135.9,204.6 L1136.9,201.0 L1137.9,195.2 L1138.9,189.7 L1139.9,181.0 L1140.9,185.2 L1141.9,187.2 L1143.4,194.2 L1144.4,190.1 L1145.4,186.0 L1146.4,185.2 L1147.4,184.8 L1148.4,187.3 L1149.4,192.2 L1150.6,191.7 L1151.9,191.0 L1153.1,193.5 L1154.4,196.0 L1155.6,194.1 L1156.9,193.5 L1157.9,190.3 L1158.9,188.5 L1160.4,176.0 L1161.9,172.3 L1163.4,182.3 L1164.9,188.5 L1166.3,178.5 L1167.8,186.0 L1169.3,192.2 L1170.3,187.8 L1171.3,183.5 L1172.3,188.6 L1173.3,192.2 L1174.8,182.3 L1175.8,188.3 L1176.8,193.5 L1177.8,190.3 L1178.8,186.8 L1179.8,188.7 L1180.8,191.0 L1181.8,178.5 L1182.8,179.0 L1183.8,179.3 L1184.8,178.3 L1185.8,177.3 L1187.3,174.8 L1188.8,179.8 L1189.8,199.7 L1191.3,213.4 L1192.8,218.4 L1193.8,215.6 L1194.8,209.7 L1195.8,204.5 L1196.8,201.0 L1198.0,199.2 L1199.3,197.7 L1200.5,196.6 L1201.8,194.2 L1202.8,198.6 L1203.8,203.4 L1204.7,204.7 L1205.7,204.7 L1206.7,201.6 L1207.7,198.5 L1208.7,199.2 L1209.7,199.7 L1210.7,207.6 L1211.7,215.9 L1212.7,210.8 L1213.7,207.7 L1214.7,208.8 L1215.7,210.9 L1216.7,217.5 L1217.7,220.9 L1218.7,218.8 L1219.7,215.9 L1220.7,206.4 L1221.7,196.0 L1223.2,186.0 L1224.4,187.0 L1225.7,187.2 L1226.7,188.1 L1227.7,188.5 L1229.2,194.2 L1230.2,191.5 L1231.2,187.2 L1232.2,185.2 L1233.2,183.5 L1234.7,177.3 L1235.7,174.0 L1236.7,171.1 L1238.2,166.8" fill="none" stroke="#e1d236" stroke-width="1.1" stroke-linejoin="round"/>
 </g>
 <path d="M10.5,502.9 L11.5,495.2 L12.5,488.7 L13.7,498.6 L15.0,506.1 L16.2,503.6 L17.4,501.9 L18.6,499.3 L19.8,496.1 L20.9,495.7 L21.9,501.2 L22.8,510.2 L23.7,513.6 L24.8,520.0 L25.8,526.8 L26.9,529.8 L27.9,541.4 L28.9,551.8 L29.9,545.3 L30.9,537.6 L31.9,529.8 L33.2,531.7 L34.4,541.0 L35.4,537.2 L36.4,530.6 L37.4,523.6 L38.3,518.7 L39.3,507.7 L40.2,501.5 L41.1,499.4 L42.0,502.6 L42.9,509.9 L44.4,501.9 L45.6,508.6 L46.9,517.4 L47.9,518.4 L48.9,518.6 L49.9,514.8 L50.9,512.3 L51.9,507.4 L53.0,503.5 L54.2,502.7 L55.3,499.4 L56.6,500.8 L57.8,501.2 L58.8,506.7 L59.8,519.2 L60.8,522.4 L61.8,521.0 L62.8,517.4 L64.1,526.9 L65.3,531.1 L66.3,532.3 L67.3,536.1 L68.3,536.6 L69.3,539.8 L70.3,534.9 L71.3,531.3 L72.3,527.3 L73.3,527.5 L74.3,526.3 L75.3,525.3 L76.4,527.9 L77.6,530.3 L78.8,536.1 L79.9,541.0 L81.1,550.9 L82.3,554.3 L83.5,553.6 L84.8,554.8 L85.8,549.1 L86.8,542.3 L88.2,556.0 L89.2,557.9 L90.2,558.5 L91.4,553.8 L92.6,554.4 L93.7,552.3 L95.0,548.4 L96.2,538.5 L97.5,533.7 L98.7,535.3 L100.2,531.1 L101.7,538.5 L102.7,534.3 L103.7,531.2 L104.7,527.8 L105.9,526.3 L107.2,526.8 L108.2,512.9 L109.7,527.8 L110.9,525.8 L112.2,521.9 L113.4,522.6 L114.7,523.6 L115.9,517.5 L117.2,517.4 L118.4,517.5 L119.7,515.4 L120.7,519.0 L121.7,521.9 L122.7,522.4 L123.6,524.9 L124.6,523.6 L126.1,532.3 L127.4,531.4 L128.6,529.3 L129.8,532.1 L131.0,531.8 L132.1,536.8 L133.4,535.2 L134.6,531.1 L135.6,533.9 L136.6,538.4 L137.6,543.5 L138.6,542.6 L139.6,543.8 L140.6,546.0 L141.6,547.1 L142.6,550.3 L143.6,550.8 L144.6,542.9 L145.6,544.8 L146.6,542.2 L147.6,543.9 L148.6,544.9 L149.6,542.3 L150.7,543.1 L151.8,540.4 L152.9,539.8 L154.1,542.8 L155.3,549.6 L156.6,554.8 L157.5,556.4 L158.5,558.9 L159.5,564.7 L160.8,563.6 L162.0,558.5 L163.3,558.7 L164.5,555.5 L165.8,555.9 L167.0,556.0 L168.5,567.2 L169.7,566.7 L170.8,566.2 L172.0,564.7 L173.0,571.8 L174.0,571.7 L175.2,567.7 L176.5,561.0 L177.7,560.5 L178.8,559.3 L180.0,557.2 L181.2,554.9 L182.3,558.0 L183.5,556.0 L184.6,560.0 L185.8,561.5 L187.0,562.7 L188.1,560.7 L189.3,562.5 L190.5,563.5 L191.7,557.9 L192.9,548.5 L194.2,543.6 L195.4,544.8 L196.4,544.6 L197.4,545.9 L198.4,544.8 L199.4,535.0 L200.4,531.1 L201.7,536.0 L202.9,535.3 L204.1,535.9 L205.2,535.1 L206.4,535.3 L207.4,539.2 L208.4,543.1 L209.4,544.8 L210.4,546.9 L211.4,550.6 L212.4,549.2 L213.4,552.3 L214.4,555.9 L215.4,563.8 L216.4,566.0 L217.4,565.2 L218.4,563.1 L219.4,563.5 L220.4,564.5 L221.4,565.1 L222.4,563.0 L223.4,563.5 L224.4,557.6 L225.4,557.8 L226.6,560.7 L227.8,564.2 L228.8,562.2 L229.8,560.2 L230.8,561.5 L231.8,557.2 L232.8,553.9 L233.8,556.3 L234.8,550.4 L235.8,551.0 L237.0,549.8 L238.2,551.3 L239.3,550.3 L240.3,550.8 L241.3,549.1 L242.3,547.1 L243.3,545.3 L244.3,551.8 L245.3,557.8 L246.5,561.6 L247.8,564.7 L248.8,565.0 L249.8,563.5 L250.8,563.6 L251.8,562.7 L253.0,561.9 L254.3,559.2 L255.5,561.0 L256.8,562.7 L257.8,562.3 L258.8,560.0 L259.8,560.8 L260.8,555.3 L261.7,556.7 L262.7,556.6 L263.7,557.7 L264.7,559.2 L266.0,558.0 L267.2,556.8 L268.4,558.3 L269.5,557.2 L270.6,558.5 L271.7,558.5 L273.0,560.2 L274.2,557.2 L275.3,554.4 L276.5,556.0 L277.6,557.5 L278.7,557.2 L279.9,561.9 L281.2,564.7 L282.2,564.2 L283.2,562.5 L284.2,562.2 L285.4,561.0 L286.7,557.2 L287.7,557.9 L288.7,557.2 L289.7,561.1 L290.7,558.9 L291.7,558.8 L292.7,558.3 L293.7,559.0 L294.7,559.1 L295.7,559.5 L296.6,559.7 L297.8,556.8 L299.0,560.7 L300.1,562.2 L301.3,563.0 L302.4,559.8 L303.5,560.7 L304.6,560.2 L305.6,561.0 L306.6,560.4 L307.6,560.7 L308.6,558.2 L309.6,556.7 L310.6,559.4 L311.6,560.7 L312.6,560.5 L313.6,561.8 L314.6,561.2 L315.6,569.2 L316.6,572.2 L317.6,569.2 L318.6,576.4 L319.6,576.0 L320.6,580.8 L321.6,592.1 L322.8,598.1 L324.1,600.9 L325.1,605.0 L326.1,615.8 L327.3,614.3 L328.6,612.1 L329.8,610.4 L331.1,603.4 L332.1,605.2 L333.1,607.9 L334.1,609.6 L335.3,614.4 L336.5,615.8 L337.8,621.1 L339.0,625.8 L340.0,626.6 L341.0,630.0 L342.0,630.2 L343.0,629.2 L344.0,634.7 L345.0,629.9 L346.0,632.5 L347.0,633.5 L348.0,632.5 L349.0,625.5 L350.0,619.6 L351.0,612.4 L352.0,604.6 L353.0,610.6 L354.0,613.3 L355.0,611.3 L355.9,608.4 L356.9,612.2 L357.9,613.3 L359.4,624.6 L360.9,614.6 L361.9,613.7 L362.9,618.3 L363.9,611.8 L364.9,612.1 L365.9,614.3 L366.9,614.6 L368.2,609.0 L369.4,607.6 L370.7,607.0 L371.9,609.1 L373.4,619.6 L374.4,618.5 L375.4,624.1 L376.4,623.3 L377.6,622.7 L378.9,619.6 L380.1,622.1 L381.4,620.8 L382.9,618.3 L383.9,618.5 L384.9,622.1 L385.9,621.9 L386.9,620.4 L387.9,621.6 L388.9,623.2 L389.9,624.8 L390.9,623.3 L391.9,623.2 L392.9,626.0 L393.8,627.6 L394.8,626.6 L395.8,625.1 L396.8,625.2 L397.8,623.3 L398.8,626.0 L400.1,628.3 L401.3,627.0 L402.3,622.8 L403.3,619.1 L404.3,618.7 L405.3,620.2 L406.3,620.1 L407.3,620.8 L408.3,622.4 L409.3,620.8 L410.5,618.9 L411.8,619.6 L413.3,612.6 L414.5,613.3 L415.8,610.9 L416.8,611.1 L417.8,604.6 L419.3,617.1 L420.3,618.2 L421.3,614.8 L422.3,614.1 L423.4,613.4 L424.6,615.6 L425.8,614.6 L427.2,617.6 L428.2,615.7 L429.2,613.3 L430.2,613.1 L431.2,614.3 L432.2,612.1 L433.5,612.0 L434.7,612.6 L435.7,609.4 L436.7,611.5 L437.7,611.6 L439.0,607.2 L440.2,608.6 L441.4,609.4 L442.5,608.8 L443.7,608.4 L444.9,608.2 L446.2,609.6 L447.2,610.1 L448.2,611.7 L449.2,611.1 L450.2,610.1 L451.2,610.8 L452.2,607.6 L453.2,606.9 L454.2,607.8 L455.2,605.9 L456.7,589.2 L457.9,589.9 L459.2,585.9 L460.2,587.2 L461.2,582.0 L462.1,581.7 L463.4,581.9 L464.6,579.7 L466.1,585.2 L467.4,582.3 L468.6,584.2 L470.1,586.7 L471.4,582.1 L472.6,581.7 L473.8,578.4 L474.9,581.8 L476.1,579.7 L477.1,575.6 L478.1,576.0 L479.1,579.3 L480.1,582.7 L481.3,581.5 L482.6,580.9 L483.6,580.1 L484.6,578.4 L485.6,578.4 L486.6,576.4 L487.6,577.1 L488.6,571.0 L489.8,571.0 L491.1,571.0 L492.3,569.5 L493.6,566.0 L494.8,563.2 L496.1,556.0 L497.1,548.7 L498.1,542.3 L499.3,535.7 L500.5,534.8 L502.0,541.0 L503.5,547.3 L505.0,536.1 L506.0,538.5 L507.0,543.5 L508.3,543.1 L509.5,538.5 L510.5,531.8 L511.5,531.1 L512.5,529.3 L513.5,530.4 L514.5,530.2 L515.5,529.3 L517.0,535.3 L518.5,527.8 L520.0,537.3 L521.5,542.3 L522.7,540.8 L524.0,539.3 L525.0,543.0 L526.0,543.5 L527.0,540.5 L528.0,536.8 L529.0,532.1 L530.0,529.0 L531.0,529.8 L532.0,525.8 L533.0,526.5 L534.0,521.9 L534.9,521.4 L535.9,522.4 L537.2,515.3 L538.4,512.4 L539.4,506.9 L540.4,504.9 L541.9,501.9 L543.4,487.9 L544.9,487.9 L546.4,501.2 L547.7,501.4 L548.9,508.6 L549.9,498.8 L550.9,489.4 L551.9,503.6 L552.9,497.9 L553.9,497.4 L555.1,494.3 L556.4,489.4 L557.6,487.8 L558.9,496.2 L560.4,503.6 L561.9,499.4 L563.4,521.9 L564.4,516.6 L565.4,509.9 L566.6,507.4 L567.9,506.9 L569.1,506.3 L570.3,514.4 L571.6,516.2 L572.8,516.1 L573.8,517.5 L574.8,519.9 L576.1,517.0 L577.3,519.4 L578.3,513.9 L579.3,512.4 L580.3,510.5 L581.3,506.4 L582.3,504.9 L583.3,501.7 L584.3,494.9 L585.5,495.8 L586.8,494.9 L588.3,499.9 L589.5,500.4 L590.8,499.4 L592.0,507.9 L593.3,514.9 L594.5,515.2 L595.8,511.1 L597.0,509.4 L598.3,504.9 L599.3,509.7 L600.3,512.4 L601.3,508.6 L602.3,512.0 L603.2,509.9 L604.5,513.1 L605.7,512.4 L607.0,515.2 L608.2,519.4 L609.5,517.7 L610.7,517.4 L612.0,517.4 L613.2,508.6 L614.5,506.1 L615.7,507.9 L616.9,509.2 L618.0,512.4 L619.2,509.9 L620.2,509.7 L621.2,512.4 L622.2,512.2 L623.2,509.9 L624.4,512.6 L625.5,510.6 L626.7,511.1 L627.8,512.2 L629.0,513.1 L630.2,512.4 L631.2,511.9 L632.2,513.9 L633.2,514.9 L634.2,523.0 L635.2,529.8 L636.2,535.4 L637.1,537.3 L638.1,536.3 L639.1,535.0 L640.1,534.3 L641.4,531.9 L642.6,532.3 L643.9,533.6 L645.1,536.1 L646.1,539.6 L647.1,539.8 L648.1,536.9 L649.1,531.6 L650.1,530.3 L651.4,530.6 L652.6,533.6 L653.9,537.2 L655.1,534.3 L656.3,537.6 L657.6,537.3 L658.8,537.9 L659.9,534.0 L661.1,536.8 L662.1,536.9 L663.1,535.3 L664.6,544.8 L666.1,545.3 L667.1,523.6 L668.1,521.8 L669.1,517.9 L670.3,523.1 L671.5,522.4 L672.7,522.5 L673.9,521.4 L675.0,521.1 L676.0,521.7 L677.0,519.0 L678.0,521.1 L679.0,523.3 L680.0,523.1 L681.0,522.5 L682.0,524.3 L683.2,527.8 L684.5,527.2 L685.7,531.2 L687.0,529.7 L688.2,529.3 L689.5,533.5 L690.7,533.7 L692.0,536.0 L693.2,541.0 L694.5,544.7 L695.7,550.3 L697.0,555.2 L698.2,549.0 L699.4,544.7 L700.4,540.2 L701.4,539.7 L702.7,547.2 L703.9,546.0 L704.9,548.3 L705.9,545.9 L706.9,548.4 L708.2,543.4 L709.4,543.5 L710.4,546.0 L711.4,545.5 L712.4,544.7 L713.7,549.6 L714.9,548.4 L715.9,549.9 L716.9,548.2 L717.9,549.7 L719.1,555.5 L720.4,560.2 L721.4,548.8 L722.4,547.2 L723.6,543.3 L724.9,542.2 L726.1,544.8 L727.4,547.7 L728.5,548.1 L729.7,546.5 L730.9,547.2 L732.1,546.4 L733.4,546.0 L734.3,549.1 L735.3,551.2 L736.3,552.7 L737.6,551.0 L738.8,546.7 L740.1,541.8 L741.3,536.0 L742.6,537.9 L743.8,541.0 L745.1,539.5 L746.3,534.7 L747.6,531.3 L748.8,527.8 L750.0,526.4 L751.1,526.3 L752.3,526.8 L753.5,528.0 L754.8,529.2 L756.0,529.4 L757.3,529.7 L758.5,531.9 L759.8,533.5 L761.0,527.9 L762.3,522.3 L763.5,521.0 L764.8,519.3 L765.8,519.9 L766.8,519.1 L767.8,521.8 L768.7,521.6 L769.7,520.3 L770.7,520.3 L771.7,517.4 L772.7,514.8 L773.7,513.5 L774.7,513.5 L775.7,511.8 L776.7,510.9 L777.7,510.1 L778.7,512.8 L779.7,511.4 L780.7,509.8 L781.7,511.7 L782.7,517.8 L784.2,509.3 L785.7,517.8 L786.7,518.6 L787.7,517.8 L789.2,512.8 L790.2,513.8 L791.2,519.8 L792.2,517.6 L793.2,527.2 L794.4,527.1 L795.7,530.2 L796.9,531.1 L798.2,526.8 L799.2,526.8 L800.2,527.8 L801.2,522.4 L802.1,522.8 L803.1,528.0 L804.1,536.7 L805.6,539.2 L807.1,538.5 L807.6,589.6 L808.6,584.3 L809.6,576.6 L811.1,589.6 L812.1,585.7 L813.1,579.6 L814.1,572.5 L815.1,564.6 L816.6,563.4 L818.1,575.9 L819.6,555.2 L820.6,556.7 L821.6,554.7 L823.1,562.1 L824.1,569.4 L825.1,573.4 L826.1,566.5 L827.1,559.7 L828.1,558.9 L829.1,555.9 L830.1,557.4 L831.1,554.2 L832.1,556.7 L833.6,546.0 L834.6,547.9 L835.6,547.2 L836.6,552.6 L837.5,553.4 L838.5,552.4 L839.5,553.7 L840.5,554.2 L841.5,558.2 L842.5,559.2 L844.0,549.7 L845.0,548.0 L846.0,547.2 L847.5,554.2 L848.8,551.8 L850.0,544.7 L851.0,544.6 L852.0,542.7 L853.3,543.1 L854.5,541.0 L856.0,528.5 L857.0,526.9 L858.0,526.0 L859.0,529.3 L860.0,528.0 L861.0,526.8 L862.0,524.8 L863.0,523.5 L864.5,513.5 L865.5,516.2 L866.5,518.5 L867.5,530.2 L868.5,530.2 L869.5,525.5 L870.5,522.3 L872.0,513.5 L873.5,521.0 L874.4,520.3 L875.4,516.0 L876.4,517.6 L877.4,516.8 L878.4,520.5 L879.4,524.3 L880.9,522.3 L882.4,529.7 L883.4,525.7 L884.4,526.0 L885.4,522.7 L886.4,518.5 L887.9,521.0 L889.4,516.0 L890.4,507.3 L891.4,519.3 L892.4,518.6 L893.4,516.8 L894.6,517.8 L895.9,516.0 L897.0,516.6 L898.2,515.2 L899.4,514.8 L900.4,522.3 L901.4,522.8 L902.4,521.7 L903.4,520.3 L904.4,520.2 L905.4,519.7 L906.4,519.3 L907.6,520.4 L908.9,522.3 L909.8,521.8 L910.8,517.1 L911.8,517.3 L913.1,518.6 L914.3,522.3 L915.6,523.8 L916.8,525.3 L917.8,522.7 L918.8,523.5 L919.8,523.5 L920.8,521.4 L921.8,523.2 L922.8,524.3 L924.1,524.6 L925.3,523.5 L926.3,522.9 L927.3,520.3 L928.5,521.2 L929.8,522.3 L931.0,522.0 L932.1,520.7 L933.3,522.3 L934.4,524.9 L935.6,523.7 L936.8,523.5 L937.9,524.7 L939.1,522.5 L940.3,523.5 L941.3,521.0 L942.2,519.3 L943.5,516.7 L944.7,518.5 L945.7,513.2 L946.7,504.3 L948.0,504.6 L949.2,502.3 L950.5,495.3 L951.7,496.1 L953.2,503.6 L954.5,501.4 L955.7,499.3 L957.0,499.4 L958.2,497.8 L959.5,496.3 L960.7,499.8 L961.7,495.3 L962.7,496.8 L963.9,496.0 L965.2,497.8 L966.2,494.7 L967.2,491.2 L968.2,491.9 L969.4,494.7 L970.7,497.3 L971.9,498.7 L973.2,499.3 L974.4,499.7 L975.7,498.6 L977.1,501.8 L978.1,502.1 L979.1,502.5 L980.1,499.8 L981.1,500.3 L982.1,494.6 L983.1,495.3 L984.6,502.3 L986.1,514.8 L987.1,512.4 L988.1,511.8 L989.4,511.0 L990.6,512.8 L991.6,510.4 L992.6,511.0 L993.6,510.3 L994.9,510.7 L996.1,511.1 L997.1,509.6 L998.1,506.1 L999.1,503.0 L1000.1,502.6 L1001.1,503.6 L1002.1,504.2 L1003.1,504.8 L1004.1,508.1 L1005.1,512.3 L1006.1,508.5 L1007.1,506.1 L1008.1,506.6 L1009.1,507.3 L1010.0,506.6 L1011.0,507.6 L1012.0,508.1 L1013.0,507.3 L1014.0,506.6 L1015.0,507.1 L1016.0,507.0 L1017.0,508.6 L1017.9,507.8 L1018.9,504.0 L1019.9,507.1 L1020.9,503.7 L1021.9,503.8 L1022.9,502.1 L1024.2,498.2 L1025.4,499.1 L1026.4,499.9 L1027.4,500.4 L1028.4,500.8 L1029.7,498.4 L1030.9,499.6 L1032.2,496.6 L1033.4,494.6 L1034.4,490.4 L1035.4,487.6 L1036.4,487.6 L1037.4,487.3 L1038.4,485.9 L1039.4,483.3 L1040.4,480.9 L1041.4,481.2 L1042.4,484.6 L1043.6,482.9 L1044.9,481.6 L1046.1,480.5 L1047.4,479.6 L1048.4,475.3 L1049.4,467.7 L1050.4,471.2 L1051.3,473.4 L1052.3,468.7 L1053.3,467.2 L1054.3,464.7 L1055.3,465.3 L1056.3,465.2 L1057.3,462.8 L1058.3,462.7 L1059.8,465.9 L1060.8,458.8 L1061.8,456.7 L1063.1,453.0 L1064.3,449.7 L1065.6,448.9 L1066.8,449.2 L1067.8,447.8 L1068.8,446.0 L1070.0,452.8 L1071.3,457.2 L1072.3,456.0 L1073.3,455.9 L1074.8,439.2 L1076.3,449.7 L1077.3,452.0 L1078.3,444.2 L1079.3,445.4 L1080.3,447.7 L1081.3,448.4 L1082.3,446.0 L1083.3,448.3 L1084.3,450.2 L1085.3,452.5 L1086.2,451.7 L1087.2,444.3 L1088.2,446.7 L1089.2,444.6 L1090.2,444.7 L1091.2,437.8 L1092.2,429.8 L1093.5,427.4 L1094.7,422.3 L1095.7,431.0 L1096.7,429.3 L1097.7,427.1 L1098.7,423.5 L1100.0,421.4 L1101.2,413.6 L1102.5,413.0 L1103.7,409.8 L1104.7,408.9 L1105.7,403.6 L1106.7,403.2 L1107.7,401.1 L1108.7,395.1 L1109.7,389.9 L1110.7,387.0 L1111.7,381.9 L1112.7,373.5 L1113.7,369.9 L1114.7,370.6 L1115.7,367.4 L1117.2,379.9 L1118.7,387.4 L1119.7,375.8 L1120.7,368.7 L1122.2,378.7 L1123.4,379.6 L1124.6,379.9 L1125.6,384.5 L1126.6,382.4 L1128.1,402.4 L1129.1,396.9 L1130.1,392.4 L1131.4,391.8 L1132.6,391.1 L1134.1,402.9 L1135.6,389.9 L1136.9,390.0 L1138.1,386.1 L1139.4,383.7 L1140.6,381.2 L1141.6,376.2 L1142.6,374.9 L1143.6,374.1 L1144.6,372.4 L1145.6,367.5 L1146.6,360.0 L1147.6,357.8 L1148.6,352.5 L1149.1,349.5 L1150.1,349.1 L1151.2,350.8 L1152.0,352.6 L1152.9,349.5 L1154.4,348.3 L1155.7,342.0 L1156.5,341.7 L1157.4,333.9 L1158.4,331.9 L1159.4,329.8 L1160.4,335.1 L1161.9,348.9 L1162.9,351.3 L1163.9,352.6 L1164.9,353.7 L1165.9,359.0 L1166.9,358.3 L1168.2,345.8 L1169.5,350.1 L1170.2,344.5 L1171.7,348.9 L1173.2,347.6 L1174.2,342.3 L1175.2,340.1 L1176.2,338.5 L1177.2,333.9 L1178.2,327.1 L1179.2,322.6 L1180.5,330.1 L1181.5,336.4 L1182.7,328.2 L1183.6,328.3 L1184.5,330.7 L1185.5,331.3 L1186.5,330.1 L1187.4,332.5 L1188.2,331.3 L1189.8,337.6 L1191.0,341.3 L1192.3,345.1 L1193.3,336.4 L1194.1,334.4 L1195.0,334.5 L1195.9,334.0 L1196.8,330.1 L1197.9,329.4 L1199.0,328.8 L1200.5,329.5 L1201.8,332.6 L1203.3,328.2 L1204.3,332.7 L1205.3,335.7 L1206.5,330.7 L1207.6,331.9 L1208.6,328.2 L1209.4,329.0 L1210.3,326.3 L1211.3,319.8 L1212.3,319.6 L1213.3,320.7 L1214.8,325.1 L1215.7,334.0 L1216.6,332.6 L1217.5,333.2 L1218.3,333.9 L1219.3,339.4 L1220.3,341.4 L1221.3,342.2 L1222.2,345.4 L1223.2,344.1 L1224.1,349.5 L1224.6,338.9 L1225.5,340.5 L1226.4,335.7 L1227.9,340.7 L1228.6,331.3 L1229.7,332.8 L1230.9,331.3 L1231.8,335.5 L1232.6,345.1 L1233.6,330.1 L1234.6,333.9 L1235.6,327.7 L1236.6,328.2 L1237.5,326.7 L1238.4,329.8" fill="none" stroke="#ffffff" stroke-width="2" stroke-linejoin="round" stroke-linecap="round"/>
</svg>
<div class="hl" style="left:10px;top:281px;width:1385px"></div>
<div class="hl" style="left:10px;top:664px;width:1385px"></div>
<div class="vl" style="left:1333px;top:10px;height:681px"></div>
<div class="lg" id="l1" style="top:17.6px;letter-spacing:0.152px">CryptoQuant:bitcoin/exchangeFlows/netflow/netflow_total?exchange=all_exchange, 1D, CryptoQuant</div>
<div class="lg" id="l2" style="top:35.3px">MA (30, close, 0)</div>
<div class="lg" id="l3" style="top:290px;transform:scaleX(0.8988)">BITCOIN/MARKETDATA/PRICEUSD/PRICE_USD, CRYPTOQUANT</div>
<div class="yl" style="top:30.5px">10000.00</div>
<div class="box" style="top:23px"><i></i><span>10474.15</span></div>
<div class="yl" style="top:58.4px">8000.00</div><div class="tk" style="top:66px"></div><div class="yl" style="top:87.4px">6000.00</div><div class="tk" style="top:95px"></div><div class="yl" style="top:116.4px">4000.00</div><div class="tk" style="top:124px"></div><div class="yl" style="top:145.4px">2000.00</div><div class="tk" style="top:153px"></div><div class="yl" style="top:174.4px">0.00</div><div class="tk" style="top:182px"></div><div class="yl" style="top:203.4px">−2000.00</div><div class="tk" style="top:211px"></div><div class="yl" style="top:232.1px">−4000.00</div><div class="tk" style="top:239px"></div><div class="yl" style="top:261.0px">−6000.00</div><div class="tk" style="top:268px"></div>
<div class="clip"><div class="yl" style="left:8px;top:-5px">90000.00</div></div><div class="tk" style="top:284px"></div>
<div class="yl" style="top:348.9px">45000.00</div><div class="tk" style="top:356px"></div><div class="yl" style="top:381.4px">33000.00</div><div class="tk" style="top:389px"></div><div class="yl" style="top:419.4px">23000.00</div><div class="tk" style="top:427px"></div><div class="yl" style="top:450.7px">17000.00</div><div class="tk" style="top:458px"></div><div class="yl" style="top:478.7px">13000.00</div><div class="tk" style="top:486px"></div><div class="yl" style="top:517.4px">9000.00</div><div class="tk" style="top:525px"></div><div class="yl" style="top:551.4px">6500.00</div><div class="tk" style="top:559px"></div><div class="yl" style="top:580.8px">4900.00</div><div class="tk" style="top:588px"></div><div class="yl" style="top:610.4px">3700.00</div><div class="tk" style="top:618px"></div><div class="yl" style="top:639.4px">2800.00</div><div class="tk" style="top:647px"></div>
<div class="box" style="top:321px"><i></i><span>58262.94</span></div>
<div class="xt" style="left:84px"></div><div class="xl" style="left:83.7px">Apr</div><div class="xt" style="left:177px"></div><div class="xl" style="left:176.7px">Jul</div><div class="xt" style="left:270px"></div><div class="xl" style="left:269.7px">Oct</div><div class="xt" style="left:364px"></div><div class="xl yr" style="left:363.7px">2019</div><div class="xt" style="left:456px"></div><div class="xl" style="left:455.7px">Apr</div><div class="xt" style="left:548px"></div><div class="xl" style="left:547.7px">Jul</div><div class="xt" style="left:642px"></div><div class="xl" style="left:641.7px">Oct</div><div class="xt" style="left:735px"></div><div class="xl yr" style="left:734.7px">2020</div><div class="xt" style="left:828px"></div><div class="xl" style="left:827.7px">Apr</div><div class="xt" style="left:920px"></div><div class="xl" style="left:919.7px">Jul</div><div class="xt" style="left:1014px"></div><div class="xl" style="left:1013.7px">Oct</div><div class="xt" style="left:1107px"></div><div class="xl yr" style="left:1106.7px">2021</div><div class="xt" style="left:1199px"></div><div class="xl" style="left:1198.7px">Apr</div><div class="xt" style="left:1291px"></div><div class="xl" style="left:1290.7px">Jul</div>
<div class="big" id="t1" style="left:881.5px;letter-spacing:-0.09px;top:119px;font-size:27.5px;line-height:32px;color:#ffff00">Exchange Netflow (30d MA)</div>
<div class="big" id="t2" style="left:913.8px;letter-spacing:-0.6px;top:388.7px;font-size:27.5px;line-height:32px;color:#ffffff">BTC Price</div>
<svg width="30" height="20" viewBox="0 0 30 20" style="left:8px;top:698px">
 <g fill="#2196f3"><circle cx="12.6" cy="8.7" r="6.2"/><circle cx="5.9" cy="13.9" r="4.2"/><circle cx="22.2" cy="11.2" r="4.6"/><circle cx="24.2" cy="14.1" r="4"/><rect x="5.9" y="9" width="18.3" height="9.1"/></g>
 <path d="M1.3,16.5 L11.9,8.1 L17.9,14.5 L25.8,7.1" fill="none" stroke="#1e222d" stroke-width="1.35" stroke-linejoin="round"/>
 <circle cx="11.9" cy="8.2" r="1.45" fill="#1e222d"/><circle cx="17.9" cy="14.4" r="1.45" fill="#1e222d"/>
</svg>
<div class="big" id="t3" style="left:38.8px;letter-spacing:-0.42px;top:700.6px;font-size:13px;line-height:16px;color:#d9dadd">TradingView</div>
</body></html>
